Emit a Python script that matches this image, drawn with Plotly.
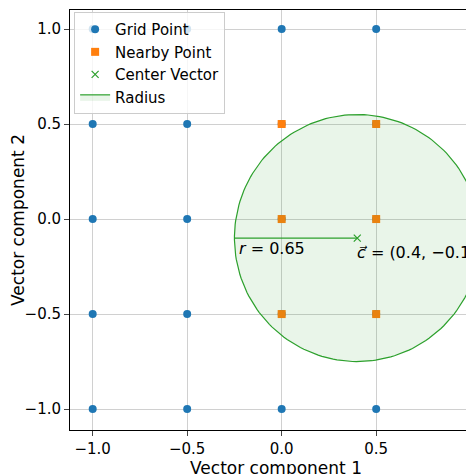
import numpy as np
import plotly.graph_objects as go

grid_vals = [-1.0, -0.5, 0.0, 0.5, 1.0]
nearby_x = [0.0, 0.5, 1.0, 0.0, 0.5, 0.0, 0.5]
nearby_y = [0.0, 0.0, 0.0, 0.5, 0.5, -0.5, -0.5]
center = (0.4, -0.1)
radius = 0.65

gx = [x for x in grid_vals for y in grid_vals]
gy = [y for x in grid_vals for y in grid_vals]

t = np.linspace(0, 2 * np.pi, 200)
cx = center[0] + radius * np.cos(t)
cy = center[1] + radius * np.sin(t)

fig = go.Figure()
fig.add_trace(go.Scatter(x=gx, y=gy, mode="markers", name="Grid Point", cliponaxis=False,
                         marker=dict(color="#1f77b4", size=8)))
fig.add_trace(go.Scatter(x=nearby_x, y=nearby_y, mode="markers", name="Nearby Point", cliponaxis=False,
                         marker=dict(color="#ff7f0e", size=8, symbol="square")))
fig.add_trace(go.Scatter(x=[center[0]], y=[center[1]], mode="markers", name="Center Vector",
                         marker=dict(color="#2ca02c", size=7, symbol="x-thin",
                                     line=dict(color="#2ca02c", width=1.2))))
fig.add_trace(go.Scatter(x=cx, y=cy, mode="lines", fill="toself", name="Radius",
                         line=dict(color="#2ca02c", width=1.2),
                         fillcolor="rgba(44,160,44,0.1)"))
fig.add_trace(go.Scatter(x=[center[0], center[0] - radius], y=[center[1], center[1]],
                         mode="lines", showlegend=False, line=dict(color="#2ca02c", width=1.2)))

fig.add_annotation(x=-0.05, y=-0.155, text="<i>r</i> = 0.65", showarrow=False,
                   xanchor="center", yanchor="middle", font=dict(size=16, color="black"))
fig.add_annotation(x=0.39, y=-0.175, text="<i>c⃗</i> = (0.4, −0.1)", showarrow=False,
                   xanchor="left", yanchor="middle", font=dict(size=16, color="black"))

axis = dict(showgrid=True, gridcolor="#d0d0d0", zeroline=False, showline=True,
            linecolor="black", mirror=True, ticks="outside", ticklen=5, automargin=False,
            tickvals=grid_vals, ticktext=["−1.0", "−0.5", "0.0", "0.5", "1.0"],
            tickfont=dict(size=15, color="black"))
fig.update_xaxes(axis, range=[-1.12, 1.06],
                 title=dict(text="Vector component 1", font=dict(size=17, color="black"), standoff=2))
fig.update_yaxes(axis, range=[-1.11, 1.1],
                 title=dict(text="Vector component 2", font=dict(size=17, color="black"), standoff=2))

fig.update_layout(
    width=474, height=474, template="none",
    font=dict(family="DejaVu Sans"),
    margin=dict(l=62, r=0, t=2, b=52),
    plot_bgcolor="white", paper_bgcolor="white",
    legend=dict(x=0.01, y=0.995, xanchor="left", yanchor="top",
                bgcolor="rgba(255,255,255,0.8)", bordercolor="#cccccc", borderwidth=1,
                font=dict(size=15, color="black"), traceorder="normal"),
)
fig.write_html("out.html")
